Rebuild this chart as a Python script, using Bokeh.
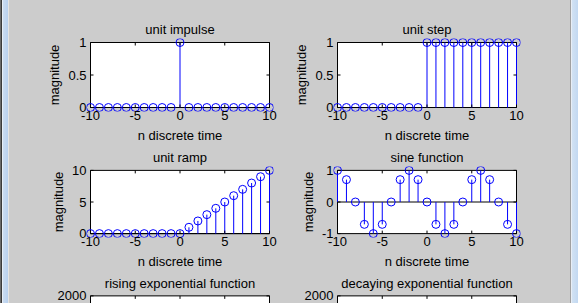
import math
from bokeh.plotting import figure
from bokeh.models import Range1d, FixedTicker, Div, Label, AllLabels
from bokeh.layouts import row, column
from bokeh.embed import file_html
from bokeh.resources import INLINE

# ---------------- data ----------------
n = [-10, -9, -8, -7, -6, -5, -4, -3, -2, -1, 0, 1, 2, 3, 4, 5, 6, 7, 8, 9, 10]
unit_impulse = [0, 0, 0, 0, 0, 0, 0, 0, 0, 0, 1, 0, 0, 0, 0, 0, 0, 0, 0, 0, 0]
unit_step = [0, 0, 0, 0, 0, 0, 0, 0, 0, 0, 1, 1, 1, 1, 1, 1, 1, 1, 1, 1, 1]
unit_ramp = [0, 0, 0, 0, 0, 0, 0, 0, 0, 0, 0, 1, 2, 3, 4, 5, 6, 7, 8, 9, 10]
sine_values = [1, 0.707, 0, -0.707, -1, -0.707, 0, 0.707, 1, 0.707, 0,
               -0.707, -1, -0.707, 0, 0.707, 1, 0.707, 0, -0.707, -1]
rising_exp = [0.0009, 0.0018, 0.0037, 0.0074, 0.015, 0.030, 0.061, 0.122, 0.247, 0.497, 1.0,
              2.01, 4.06, 8.17, 16.4, 33.1, 66.7, 134.3, 270.4, 544.6, 1096.6]
decaying_exp = [1096.6, 544.6, 270.4, 134.3, 66.7, 33.1, 16.4, 8.17, 4.06, 2.01, 1.0,
                0.497, 0.247, 0.122, 0.061, 0.030, 0.015, 0.0074, 0.0037, 0.0018, 0.0009]

x_limits = (-10, 10)
x_ticks = [-10, -5, 0, 5, 10]
x_tick_labels = ["-10", "-5", "0", "5", "10"]

unit_limits = (0, 1)
unit_ticks = [0, 0.5, 1]
unit_tick_labels = ["0", "0.5", "1"]
ramp_limits = (0, 10)
ramp_ticks = [0, 5, 10]
ramp_tick_labels = ["0", "5", "10"]
sine_limits = (-1, 1)
sine_ticks = [-1, 0, 1]
sine_tick_labels = ["-1", "0", "1"]
exp_limits = (0, 2000)
exp_ticks = [0, 1000, 2000]
exp_tick_labels = ["0", "1000", "2000"]

titles = ["unit impulse", "unit step", "unit ramp", "sine function",
          "rising exponential function", "decaying exponential function"]
x_label = "n discrete time"
y_label = "magnitude"

# ---------------- style / layout ----------------
FONT = "Liberation Sans"
FS = "13px"
BG = "#cccccc"
BOX_W = 179
BOX_H = 65
PAD = 4
COLS = [(77, 12, -48), (48, 50, -46)]               # left border, right border, cut-off label offset
ROWS = [(38, 34, None), (19, 34, None), (19, 0, 9)]  # top border, bottom border, visible box px


def panel(title, ys, ylim, yticks, ylabels, col, r):
    lb, rb, lab_off = COLS[col]
    tb, bb, visible = ROWS[r]
    x0, x1 = x_limits
    y0, y1 = ylim
    ux = (x1 - x0) / BOX_W
    uy = (y1 - y0) / BOX_H
    if visible is None:
        yr = Range1d(y0 - PAD * uy, y1 + PAD * uy)
        fh = BOX_H + 2 * PAD
    else:
        yr = Range1d(y1 - visible * uy, y1 + PAD * uy)
        fh = visible + PAD
    xr = Range1d(x0 - PAD * ux, x1 + PAD * ux)
    fw = BOX_W + 2 * PAD
    p = figure(width=lb + fw + rb, height=tb + fh + bb, x_range=xr, y_range=yr,
               min_border_left=lb, min_border_right=rb, min_border_top=tb,
               min_border_bottom=bb, toolbar_location=None, output_backend="svg",
               background_fill_color=BG, border_fill_color=BG, outline_line_color=None,
               x_axis_location=None if visible else "below", title=title,
               styles={"background-color": BG})
    p.title.align = "center"
    p.title.text_font = FONT
    p.title.text_font_size = FS
    p.title.text_font_style = "normal"
    p.title.text_color = "black"
    p.title.standoff = 4
    p.xgrid.visible = False
    p.ygrid.visible = False
    for ax in p.axis:
        ax.axis_line_color = None
        ax.major_tick_line_color = None
        ax.minor_tick_line_color = None
        ax.major_label_policy = AllLabels()
        ax.major_label_text_font = FONT
        ax.major_label_text_font_size = FS
        ax.major_label_text_color = "black"
        ax.axis_label_text_font = FONT
        ax.axis_label_text_font_size = FS
        ax.axis_label_text_font_style = "normal"
        ax.axis_label_text_color = "black"
    p.yaxis.ticker = FixedTicker(ticks=yticks)
    p.yaxis.major_label_overrides = dict(zip(yticks, ylabels))
    p.yaxis.major_label_standoff = -6
    if not visible:
        p.xaxis.ticker = FixedTicker(ticks=x_ticks)
        p.xaxis.major_label_overrides = dict(zip(x_ticks, x_tick_labels))
        p.xaxis.major_label_standoff = -7
        p.xaxis.axis_label = x_label
        p.xaxis.axis_label_standoff = 5
        p.yaxis.axis_label = y_label
        p.yaxis.axis_label_standoff = 3
    else:
        p.add_layout(Label(x=x0 + lab_off * ux, y=y1 - 3 * uy, text=y_label,
                           angle=math.pi / 2, text_align="right", text_baseline="middle",
                           text_font=FONT, text_font_size=FS, text_color="black"))

    # axes box
    p.quad(left=[x0], right=[x1], bottom=[y0], top=[y1], fill_color="white",
           line_color="black", line_width=1)
    # stem baseline, stems, markers
    p.segment(x0=[x0], y0=[0], x1=[x1], y1=[0], line_color="black", line_width=1)
    p.segment(x0=n, y0=[0] * len(n), x1=n, y1=ys, line_color="#0000ff", line_width=1)
    p.scatter(n, ys, marker="circle", size=8, fill_color=None, line_color="#0000ff",
              line_width=1)
    # inward ticks on all four sides
    p.ray(x=x_ticks, y=[y0] * len(x_ticks), length=3, length_units="screen",
          angle=math.pi / 2, line_color="black")
    p.ray(x=x_ticks, y=[y1] * len(x_ticks), length=3, length_units="screen",
          angle=-math.pi / 2, line_color="black")
    p.ray(x=[x0] * len(yticks), y=yticks, length=3, length_units="screen",
          angle=0, line_color="black")
    p.ray(x=[x1] * len(yticks), y=yticks, length=3, length_units="screen",
          angle=math.pi, line_color="black")
    return p


p1 = panel(titles[0], unit_impulse, unit_limits, unit_ticks, unit_tick_labels, 0, 0)
p2 = panel(titles[1], unit_step, unit_limits, unit_ticks, unit_tick_labels, 1, 0)
p3 = panel(titles[2], unit_ramp, ramp_limits, ramp_ticks, ramp_tick_labels, 0, 1)
p4 = panel(titles[3], sine_values, sine_limits, sine_ticks, sine_tick_labels, 1, 1)
p5 = panel(titles[4], rising_exp, exp_limits, exp_ticks, exp_tick_labels, 0, 2)
p6 = panel(titles[5], decaying_exp, exp_limits, exp_ticks, exp_tick_labels, 1, 2)

left_strip = Div(text="", width=9, height=303, margin=0, styles={
    "background": "linear-gradient(to right, #6a6a6a 0px, #6a6a6a 1px, #3a3a3a 1px, #3a3a3a 2px, "
                  "#e6eef7 2px, #e6eef7 3px, #cadcf1 3px, #b8d0ee 8px, #e4e4e4 8px, #e4e4e4 9px)"})
right_strip = Div(text="", width=8, height=303, margin=0, styles={
    "background": "linear-gradient(to right, #a0a0a0 0px, #a0a0a0 1px, #e8eef6 1px, #e8eef6 2px, "
                  "#d2e2f3 2px, #c2d8f1 8px)"})

left_col = column(p1, p3, p5, spacing=0, styles={"background-color": BG})
right_col = column(p2, p4, p6, spacing=0, styles={"background-color": BG})
layout = row(left_strip, left_col, right_col, right_strip, spacing=0,
             styles={"background-color": BG})

open("out.html", "w").write(file_html(layout, INLINE))
